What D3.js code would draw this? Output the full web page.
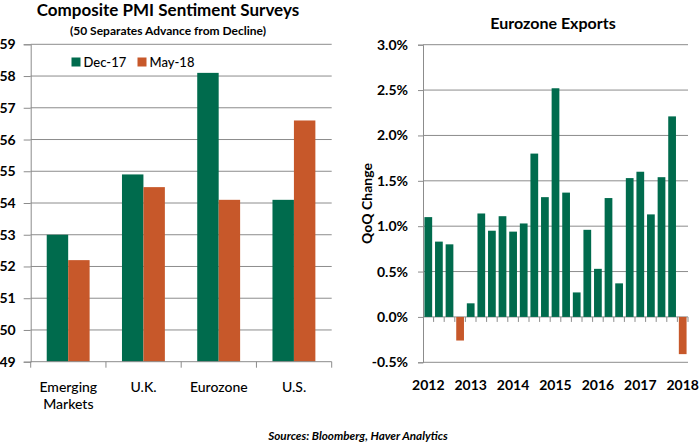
<!DOCTYPE html>
<head>
<meta charset="utf-8">
<style>
body { margin: 0; background: #fff; }
text { font-family: Lato, "Open Sans", sans-serif; fill: #000; }
</style>
</head>
<body>
<script src="https://d3js.org/d3.v7.min.js"></script>
<script>
// left panel data
var regions = ["Emerging Markets", "U.K.", "Eurozone", "U.S."];
var seriesNames = ["Dec-17", "May-18"];
var dec17 = [53.0, 54.9, 58.1, 54.1];
var may18 = [52.2, 54.5, 54.1, 56.6];
var pmiTicks = [49, 50, 51, 52, 53, 54, 55, 56, 57, 58, 59];

// right panel data
var quarters = ["2012Q1", "2012Q2", "2012Q3", "2012Q4", "2013Q1", "2013Q2", "2013Q3", "2013Q4",
    "2014Q1", "2014Q2", "2014Q3", "2014Q4", "2015Q1", "2015Q2", "2015Q3", "2015Q4",
    "2016Q1", "2016Q2", "2016Q3", "2016Q4", "2017Q1", "2017Q2", "2017Q3", "2017Q4", "2018Q1"];
var exportsQoQ = [1.10, 0.83, 0.80, -0.26, 0.15, 1.14, 0.95, 1.11, 0.94, 1.03, 1.80, 1.32,
    2.52, 1.37, 0.27, 0.96, 0.53, 1.31, 0.37, 1.53, 1.60, 1.13, 1.54, 2.21, -0.41];
var pctTicks = [-0.5, 0, 0.5, 1.0, 1.5, 2.0, 2.5, 3.0];
var yearLabels = ["2012", "2013", "2014", "2015", "2016", "2017", "2018"];

var green = "#006b4d", orange = "#c7582a", grid = "#8c8c8c";

var svg = d3.select("body").append("svg")
    .attr("width", 700)
    .attr("height", 444);

// ---------- left chart ----------
var x0 = d3.scaleBand().domain(regions).range([30.7, 331.7]);
var bw = x0.bandwidth();
var x1 = d3.scaleBand().domain(seriesNames).range([bw * 0.213, bw * 0.783]);
var y = d3.scaleLinear().domain([49, 59]).range([361.7, 44.3]);

var left = svg.append("g");

left.append("g")
    .selectAll("line")
    .data(pmiTicks.slice(1))
    .enter().append("line")
    .attr("x1", 30.7).attr("x2", 331.7)
    .attr("y1", function (d) { return y(d); })
    .attr("y2", function (d) { return y(d); })
    .attr("stroke", grid).attr("stroke-width", 1);

var yAx = left.append("g")
    .attr("transform", "translate(30.7,0)")
    .call(d3.axisLeft(y).tickValues(pmiTicks).tickSize(7).tickPadding(8).tickFormat(d3.format("d")));
yAx.select(".domain").attr("stroke", grid);
yAx.selectAll(".tick line").attr("stroke", grid);
yAx.selectAll("text").style("font-size", "14px").style("font-weight", "bold").attr("fill", "#000");

var vals = [dec17, may18];
var cols = [green, orange];
seriesNames.forEach(function (s, si) {
    left.append("g").selectAll("rect")
        .data(regions)
        .enter().append("rect")
        .attr("x", function (d) { return x0(d) + x1(s); })
        .attr("width", x1.bandwidth())
        .attr("y", function (d, i) { return y(vals[si][i]); })
        .attr("height", function (d, i) { return y(49) - y(vals[si][i]); })
        .attr("fill", cols[si]);
});

// x axis line with boundary ticks
left.append("line")
    .attr("x1", 30.7).attr("x2", 331.7)
    .attr("y1", y(49)).attr("y2", y(49))
    .attr("stroke", grid);
left.append("g").selectAll("line")
    .data(regions.concat(["end"]))
    .enter().append("line")
    .attr("x1", function (d, i) { return i < regions.length ? x0(d) : x0.range()[1]; })
    .attr("x2", function (d, i) { return i < regions.length ? x0(d) : x0.range()[1]; })
    .attr("y1", y(49)).attr("y2", y(49) + 6)
    .attr("stroke", grid);

left.append("g").selectAll("text")
    .data(regions)
    .enter().append("text")
    .attr("text-anchor", "middle")
    .attr("x", function (d) { return x0(d) + bw / 2; })
    .attr("y", 392)
    .style("font-size", "14px")
    .style("font-weight", "500")
    .each(function (d) {
        var parts = d === "Emerging Markets" ? ["Emerging", "Markets"] : [d];
        var t = d3.select(this);
        parts.forEach(function (p, i) {
            t.append("tspan").attr("x", x0(d) + bw / 2).attr("dy", i === 0 ? 0 : 17).text(p);
        });
    });

// legend
var lg = left.append("g");
seriesNames.forEach(function (s, i) {
    var lx = 71.5 + i * 66;
    lg.append("rect").attr("x", lx).attr("y", 57.5).attr("width", 9).attr("height", 9).attr("fill", cols[i]);
    lg.append("text").attr("x", lx + 12).attr("y", 67).style("font-size", "13px").style("font-weight", "500").text(s);
});

left.append("text").attr("x", 168).attr("y", 16).attr("text-anchor", "middle")
    .style("font-size", "17px").style("font-weight", "bold").text("Composite PMI Sentiment Surveys");
left.append("text").attr("x", 168).attr("y", 35).attr("text-anchor", "middle")
    .style("font-size", "12px").style("font-weight", "bold").text("(50 Separates Advance from Decline)");

// ---------- right chart ----------
var xq = d3.scaleBand().domain(quarters).range([423, 688]).paddingInner(0.27).paddingOuter(0.135);
var yp = d3.scaleLinear().domain([-0.5, 3.0]).range([362.3, 44.7]);

var right = svg.append("g");

right.append("g").selectAll("line")
    .data(pctTicks)
    .enter().append("line")
    .attr("x1", 423).attr("x2", 688)
    .attr("y1", function (d) { return yp(d); })
    .attr("y2", function (d) { return yp(d); })
    .attr("stroke", grid);

var ypAx = right.append("g")
    .attr("transform", "translate(423,0)")
    .call(d3.axisLeft(yp).tickValues(pctTicks).tickSize(5).tickPadding(10)
        .tickFormat(function (d) { return d.toFixed(1) + "%"; }));
ypAx.select(".domain").attr("stroke", grid);
ypAx.selectAll(".tick line").attr("stroke", grid);
ypAx.selectAll("text").style("font-size", "14px").style("font-weight", "bold").attr("fill", "#000");

right.append("g").selectAll("rect")
    .data(exportsQoQ)
    .enter().append("rect")
    .attr("x", function (d, i) { return xq(quarters[i]); })
    .attr("width", xq.bandwidth())
    .attr("y", function (d) { return yp(Math.max(0, d)); })
    .attr("height", function (d) { return Math.abs(yp(d) - yp(0)); })
    .attr("fill", function (d) { return d < 0 ? orange : green; });

// category boundary ticks under the zero line
var step = xq.step();
right.append("g").selectAll("line")
    .data(quarters)
    .enter().append("line")
    .attr("x1", function (d) { return xq(d) - step * 0.135 + step; })
    .attr("x2", function (d) { return xq(d) - step * 0.135 + step; })
    .attr("y1", yp(0)).attr("y2", yp(0) + 5)
    .attr("stroke", grid);

right.append("g").selectAll("text")
    .data(yearLabels)
    .enter().append("text")
    .attr("text-anchor", "middle")
    .attr("x", function (d) { return xq(d + "Q1") + xq.bandwidth() / 2; })
    .attr("y", 390)
    .style("font-size", "14px").style("font-weight", "bold")
    .text(function (d) { return d; });

right.append("text")
    .attr("transform", "translate(372,203.5) rotate(-90)")
    .attr("text-anchor", "middle")
    .style("font-size", "14px").style("font-weight", "bold")
    .text("QoQ Change");

right.append("text").attr("x", 553).attr("y", 29).attr("text-anchor", "middle")
    .style("font-size", "16px").style("font-weight", "bold").text("Eurozone Exports");

svg.append("text").attr("x", 358).attr("y", 440).attr("text-anchor", "middle")
    .style("font-size", "11.7px").style("font-weight", "bold").style("font-style", "italic")
    .text("Sources: Bloomberg, Haver Analytics");
</script>
</body>
